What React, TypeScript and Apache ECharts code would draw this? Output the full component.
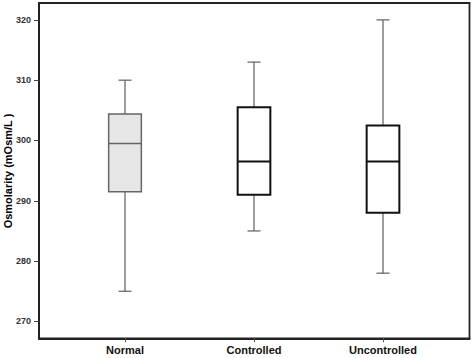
import React, { useEffect, useRef } from "react";
import * as echarts from "echarts";

const categories = ["Normal", "Controlled", "Uncontrolled"];
// [lowerWhisker, Q1, median, Q3, upperWhisker]
const boxValues = [
  [275, 291.5, 299.5, 304.4, 310],
  [285, 291, 296.5, 305.5, 313],
  [278, 288, 296.5, 302.5, 320],
];
const yTicks = [270, 280, 290, 300, 310, 320];
const yMin = 267.2;
const yMax = 322.8;
const yTitle = "Osmolarity (mOsm/L )";

export default function App() {
  const ref = useRef<HTMLDivElement>(null);
  useEffect(() => {
    if (!ref.current) return;
    const chart = echarts.init(ref.current, null, { renderer: "svg" });
    const font = "Liberation Sans, Arial, sans-serif";
    const data = boxValues.map((v, i) => [i, ...v]);
    chart.setOption({
      animation: false,
      backgroundColor: "#ffffff",
      graphic: [
        {
          type: "text",
          x: 8,
          y: 171,
          rotation: Math.PI / 2,
          style: {
            text: yTitle,
            fontFamily: font,
            fontSize: 11,
            fontWeight: "bold",
            fill: "#000",
            align: "center",
            verticalAlign: "middle",
          },
        },
      ],
      grid: [
        { left: 39, right: 4.5, top: 3, bottom: 19.7, show: true, borderColor: "#222", borderWidth: 1.8, backgroundColor: "transparent" },
        { left: 60.5, right: 26.5, top: 3, bottom: 19.7 },
      ],
      xAxis: [
        {
          gridIndex: 0, type: "value", min: 0, max: 1,
          axisLine: { show: true, onZero: false, lineStyle: { color: "#222", width: 2 } },
          axisTick: { show: false }, axisLabel: { show: false }, splitLine: { show: false },
        },
        {
          gridIndex: 1, type: "category", data: categories,
          axisLine: { show: false },
          axisTick: { show: true, alignWithLabel: true, length: 4, lineStyle: { color: "#555", width: 1 } },
          axisLabel: { margin: 6, fontFamily: font, fontSize: 11, fontWeight: "bold", color: "#111" },
          splitLine: { show: false },
        },
      ],
      yAxis: [
        {
          gridIndex: 0, type: "value", min: yMin, max: yMax,
          axisLine: { show: true, lineStyle: { color: "#222", width: 2 } },
          axisTick: { show: true, length: 5, customValues: yTicks, lineStyle: { color: "#444", width: 1 } },
          axisLabel: { margin: 8, customValues: yTicks, fontFamily: font, fontSize: 9, fontWeight: "bold", color: "#333" },
          splitLine: { show: false },
        },
        {
          gridIndex: 1, type: "value", min: yMin, max: yMax, show: false,
        },
      ],
      series: [
        {
          type: "custom",
          xAxisIndex: 1,
          yAxisIndex: 1,
          data,
          encode: { x: 0, y: [1, 2, 3, 4, 5] },
          renderItem: (params: any, api: any) => {
            const idx = api.value(0);
            const lo = api.coord([idx, api.value(1)]);
            const q1 = api.coord([idx, api.value(2)]);
            const med = api.coord([idx, api.value(3)]);
            const q3 = api.coord([idx, api.value(4)]);
            const hi = api.coord([idx, api.value(5)]);
            const cx = lo[0];
            const bw = 32.7;
            const cw = 13;
            const isNormal = params.dataIndex === 0;
            const whisk = { stroke: "#6a6a6a", lineWidth: 1.3 };
            const boxStroke = isNormal ? "#666" : "#111";
            const boxLw = isNormal ? 1.5 : 2;
            return {
              type: "group",
              children: [
                { type: "line", shape: { x1: cx, y1: q3[1], x2: cx, y2: hi[1] }, style: whisk },
                { type: "line", shape: { x1: cx, y1: q1[1], x2: cx, y2: lo[1] }, style: whisk },
                { type: "line", shape: { x1: cx - cw / 2, y1: hi[1], x2: cx + cw / 2, y2: hi[1] }, style: whisk },
                { type: "line", shape: { x1: cx - cw / 2, y1: lo[1], x2: cx + cw / 2, y2: lo[1] }, style: whisk },
                {
                  type: "rect",
                  shape: { x: cx - bw / 2, y: q3[1], width: bw, height: q1[1] - q3[1] },
                  style: { fill: isNormal ? "#e6e6e6" : "#ffffff", stroke: boxStroke, lineWidth: boxLw },
                },
                {
                  type: "line",
                  shape: { x1: cx - bw / 2, y1: med[1], x2: cx + bw / 2, y2: med[1] },
                  style: { stroke: boxStroke, lineWidth: boxLw },
                },
              ],
            };
          },
        },
      ],
    });
    return () => chart.dispose();
  }, []);
  return <div ref={ref} style={{ width: 474, height: 358, position: "absolute", left: 0, top: 0 }} />;
}
